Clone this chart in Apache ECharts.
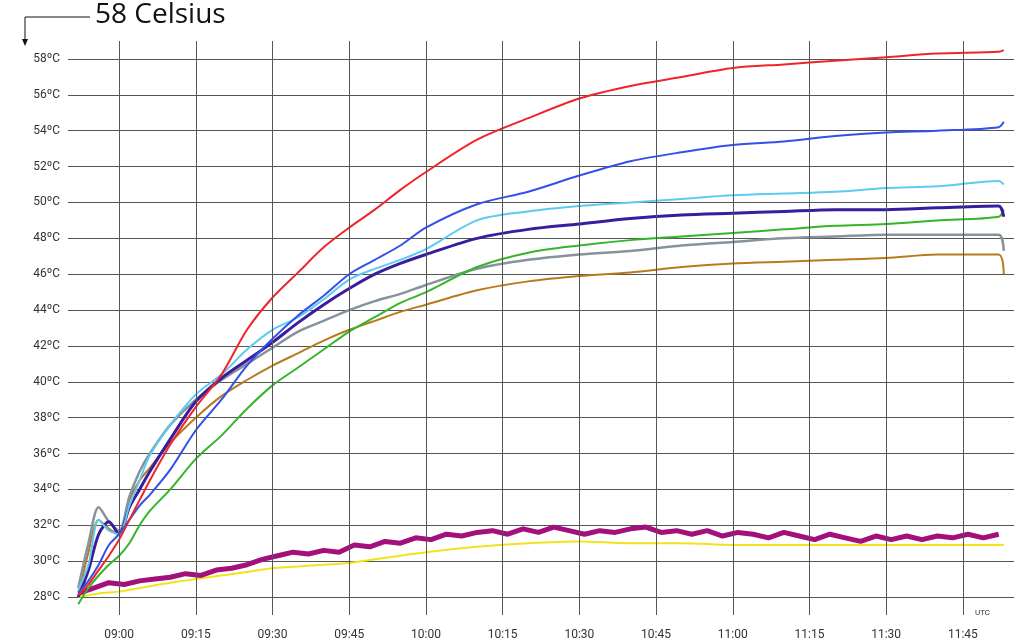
<!DOCTYPE html>
<html>
<head>
<meta charset="utf-8">
<script src="https://cdn.jsdelivr.net/npm/echarts@6/dist/echarts.min.js"></script>
<style>html,body{margin:0;padding:0;background:#fff}#main{width:1024px;height:643px}</style>
</head>
<body>
<div id="main"></div>
<script>
// minutes after 08:00
var times = [52,54,56,58,60,62,64,66,70,75,80,85,90,95,100,105,110,115,120,130,140,150,160,170,180,190,200,210,220,232,233];
var red    = [28.1,28.7,29.5,30.3,31.2,32.3,33.4,34.5,36.5,38.6,40.4,42.9,44.7,46.1,47.5,48.6,49.6,50.7,51.7,53.5,54.7,55.8,56.5,57.0,57.5,57.7,57.9,58.1,58.3,58.4,58.5];
var blue   = [28.2,28.9,29.8,30.9,31.5,32.3,33.1,33.7,35.1,37.3,39.0,40.9,42.4,43.7,44.8,46.0,46.8,47.6,48.6,49.9,50.6,51.5,52.3,52.8,53.2,53.4,53.7,53.9,54.0,54.2,54.5];
var cyan   = [28.4,29.8,32.3,31.7,31.5,33.1,34.5,35.9,37.6,39.3,40.4,41.8,42.9,43.6,44.6,45.7,46.3,46.8,47.4,49.0,49.5,49.8,50.0,50.2,50.4,50.5,50.6,50.8,50.9,51.2,51.0];
var indigo = [28.0,29.5,31.5,32.2,31.5,33.0,34.0,35.0,36.8,38.9,40.2,41.2,42.2,43.3,44.3,45.2,46.0,46.6,47.1,48.0,48.5,48.8,49.1,49.3,49.4,49.5,49.6,49.6,49.7,49.8,49.2];
var green  = [27.6,28.5,29.2,29.8,30.3,31.0,32.0,32.8,34.0,35.7,37.0,38.5,39.8,40.8,41.8,42.8,43.6,44.4,45.0,46.4,47.2,47.6,47.9,48.1,48.3,48.5,48.7,48.8,49.0,49.2,49.6];
var gray   = [28.5,31.0,33.0,32.2,31.7,33.6,35.0,36.0,37.6,39.0,40.1,41.0,41.9,42.8,43.4,44.0,44.5,44.9,45.4,46.3,46.8,47.1,47.3,47.6,47.8,48.0,48.1,48.2,48.2,48.2,47.3];
var brown  = [28.0,30.5,32.3,31.8,31.5,33.4,34.5,35.2,36.6,38.0,39.2,40.1,40.9,41.6,42.3,42.9,43.4,43.9,44.3,45.1,45.6,45.9,46.1,46.4,46.6,46.7,46.8,46.9,47.1,47.1,46.0];
var yellow = [28.0,28.1,28.2,28.25,28.3,28.4,28.5,28.6,28.8,29.0,29.2,29.4,29.6,29.7,29.8,29.9,30.1,30.3,30.5,30.8,31.0,31.1,31.0,31.0,30.9,30.9,30.9,30.9,30.9,30.9,30.9];
var magentaTimes = [52,55,58,61,64,67,70,73,76,79,82,85,88,91,94,97,100,103,106,109,112,115,118,121,124,127,130,133,136,139,142,145,148,151,154,157,160,163,166,169,172,175,178,181,184,187,190,193,196,199,202,205,208,211,214,217,220,223,226,229,232];
var magenta = [28.2,28.5,28.8,28.7,28.9,29.0,29.1,29.3,29.2,29.5,29.6,29.8,30.1,30.3,30.5,30.4,30.6,30.5,30.9,30.8,31.1,31.0,31.3,31.2,31.5,31.4,31.6,31.7,31.5,31.8,31.6,31.9,31.7,31.5,31.7,31.6,31.8,31.9,31.6,31.7,31.5,31.7,31.4,31.6,31.5,31.3,31.6,31.4,31.2,31.5,31.3,31.1,31.4,31.2,31.4,31.2,31.4,31.3,31.5,31.3,31.5];
var tickTimes = [60,75,90,105,120,135,150,165,180,195,210,225];
var tickLabels = ['09:00','09:15','09:30','09:45','10:00','10:15','10:30','10:45','11:00','11:15','11:30','11:45'];

function pairs(xs, ys) {
    return xs.map(function(x, i) { return [x, ys[i]]; });
}
function line(name, ys, color, width, xs, smooth) {
    return {
        name: name, type: 'line', data: pairs(xs || times, ys),
        showSymbol: false, smooth: smooth === undefined ? 0.3 : smooth, animation: false, clip: false,
        lineStyle: {color: color, width: width}, z: 3
    };
}

var series = [
    line('yellow', yellow, '#f2e41c', 2),
    line('magenta', magenta, '#a3107c', 5, magentaTimes, false),
    line('brown', brown, '#b87a1c', 2),
    line('gray', gray, '#86939b', 2.5),
    line('green', green, '#35b52a', 2),
    line('indigo', indigo, '#3a1c9e', 3),
    line('cyan', cyan, '#5ccbf2', 2),
    line('blue', blue, '#3350ea', 2),
    line('red', red, '#f0242a', 2),
    {
        type: 'line', xAxisIndex: 1, yAxisIndex: 1, data: [], silent: true,
        markLine: {
            symbol: 'none', silent: true, animation: false, label: {show: false},
            lineStyle: {color: '#555', width: 1, type: 'solid'},
            data: tickTimes.map(function(t) { return {xAxis: t}; })
        }
    }
];

var option = {
    backgroundColor: '#fff',
    grid: [
        {left: 68, right: 10, top: 59, bottom: 46},
        {left: 68, right: 10, top: 41, bottom: 28}
    ],
    xAxis: [{
        type: 'value', min: 50, max: 235, gridIndex: 0,
        axisLine: {show: false}, axisTick: {show: false}, axisLabel: {show: false}, splitLine: {show: false}
    }, {
        type: 'value', min: 50, max: 235, gridIndex: 1,
        axisLine: {show: false}, axisTick: {show: false}, splitLine: {show: false},
        axisLabel: {
            customValues: tickTimes, margin: 14, color: '#333', fontSize: 12, fontFamily: 'Roboto',
            formatter: function(v) { return tickLabels[tickTimes.indexOf(v)] || ''; }
        }
    }],
    yAxis: [{
        type: 'value', min: 28, max: 58, interval: 2, gridIndex: 0,
        axisLine: {show: false}, axisTick: {show: false},
        axisLabel: {color: '#333', fontSize: 12, fontFamily: 'Roboto', margin: 8, formatter: '{value}ºC'},
        splitLine: {lineStyle: {color: '#555', width: 1}}
    }, {
        type: 'value', min: 27, max: 59, gridIndex: 1, show: false
    }],
    graphic: [
        {type: 'text', left: 95, top: 1, style: {text: '58 Celsius', fontSize: 28, fontFamily: 'Open Sans', fill: '#111'}},
        {type: 'polyline', shape: {points: [[90, 17], [25, 17], [25, 40]]}, style: {stroke: '#111', lineWidth: 1, fill: null}},
        {type: 'polygon', shape: {points: [[22, 39], [28, 39], [25, 46]]}, style: {fill: '#111'}},
        {type: 'text', left: 975, top: 609, style: {text: 'UTC', fontSize: 8, fontFamily: 'Roboto', fill: '#333'}}
    ],
    series: series
};

var chart = echarts.init(document.getElementById('main'));
chart.setOption(option);
</script>
</body>
</html>
